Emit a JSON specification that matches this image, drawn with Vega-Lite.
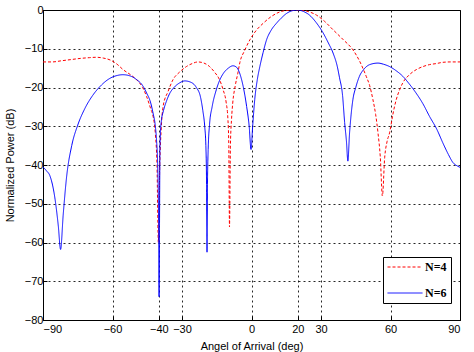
{
  "$schema": "https://vega.github.io/schema/vega-lite/v6.json",
  "width": 417,
  "height": 310,
  "autosize": "none",
  "padding": {"left": 43, "top": 10, "right": 14, "bottom": 32},
  "background": "white",
  "config": {
    "view": {"stroke": "black", "strokeWidth": 1},
    "axis": {
      "labelFont": "Liberation Sans", "labelFontSize": 11, "labelColor": "black",
      "titleFont": "Liberation Sans", "titleFontSize": 11, "titleFontWeight": "normal", "titleColor": "black",
      "domainColor": "black", "tickColor": "black", "tickSize": -4,
      "gridColor": "black", "gridDash": [2, 3], "gridOpacity": 0.85, "gridWidth": 1
    },
    "legend": {
      "orient": "none", "legendX": 340, "legendY": 247,
      "strokeColor": "black", "fillColor": "white", "padding": 4,
      "labelFont": "Liberation Serif", "labelFontSize": 12, "labelFontWeight": "bold", "labelColor": "black",
      "symbolType": "stroke", "symbolSize": 1225, "symbolStrokeWidth": 1, "clipHeight": 12,
      "rowPadding": 14, "labelOffset": 2
    }
  },
  "data": {"values": [
    {"series": "N=4", "angle": -90, "power": -13.4},
    {"series": "N=4", "angle": -86, "power": -13.4},
    {"series": "N=4", "angle": -82, "power": -13.1},
    {"series": "N=4", "angle": -78, "power": -12.8},
    {"series": "N=4", "angle": -74, "power": -12.5},
    {"series": "N=4", "angle": -70, "power": -12.3},
    {"series": "N=4", "angle": -67, "power": -12.2},
    {"series": "N=4", "angle": -64, "power": -12.4},
    {"series": "N=4", "angle": -61, "power": -12.9},
    {"series": "N=4", "angle": -58, "power": -14},
    {"series": "N=4", "angle": -55.4, "power": -15.4},
    {"series": "N=4", "angle": -52, "power": -16.8},
    {"series": "N=4", "angle": -49.6, "power": -18},
    {"series": "N=4", "angle": -47, "power": -20},
    {"series": "N=4", "angle": -45.3, "power": -22.3},
    {"series": "N=4", "angle": -43.5, "power": -25.5},
    {"series": "N=4", "angle": -42.5, "power": -27.4},
    {"series": "N=4", "angle": -41.5, "power": -32},
    {"series": "N=4", "angle": -40.8, "power": -40},
    {"series": "N=4", "angle": -40.2, "power": -60},
    {"series": "N=4", "angle": -39.6, "power": -40},
    {"series": "N=4", "angle": -39, "power": -31},
    {"series": "N=4", "angle": -38.2, "power": -25},
    {"series": "N=4", "angle": -36, "power": -21},
    {"series": "N=4", "angle": -33.9, "power": -18},
    {"series": "N=4", "angle": -31, "power": -16},
    {"series": "N=4", "angle": -28.1, "power": -14.6},
    {"series": "N=4", "angle": -25.5, "power": -13.8},
    {"series": "N=4", "angle": -23.1, "power": -13.4},
    {"series": "N=4", "angle": -20.5, "power": -13.7},
    {"series": "N=4", "angle": -18.1, "power": -14.6},
    {"series": "N=4", "angle": -16, "power": -16},
    {"series": "N=4", "angle": -13.8, "power": -18},
    {"series": "N=4", "angle": -12.3, "power": -20.5},
    {"series": "N=4", "angle": -10.9, "power": -24},
    {"series": "N=4", "angle": -10.2, "power": -28},
    {"series": "N=4", "angle": -9.8, "power": -35},
    {"series": "N=4", "angle": -9.5, "power": -56},
    {"series": "N=4", "angle": -9.1, "power": -35},
    {"series": "N=4", "angle": -8.6, "power": -28},
    {"series": "N=4", "angle": -8.1, "power": -24},
    {"series": "N=4", "angle": -7, "power": -19.5},
    {"series": "N=4", "angle": -5.9, "power": -16.3},
    {"series": "N=4", "angle": -5, "power": -13.5},
    {"series": "N=4", "angle": -3, "power": -10.5},
    {"series": "N=4", "angle": -0.7, "power": -7.7},
    {"series": "N=4", "angle": 2, "power": -5.3},
    {"series": "N=4", "angle": 5.1, "power": -3.4},
    {"series": "N=4", "angle": 8.5, "power": -1.7},
    {"series": "N=4", "angle": 12.2, "power": -0.5},
    {"series": "N=4", "angle": 16, "power": -0.05},
    {"series": "N=4", "angle": 20.8, "power": 0},
    {"series": "N=4", "angle": 24.5, "power": -0.4},
    {"series": "N=4", "angle": 28, "power": -1.3},
    {"series": "N=4", "angle": 31.5, "power": -2.9},
    {"series": "N=4", "angle": 35.2, "power": -5.1},
    {"series": "N=4", "angle": 39.5, "power": -7.6},
    {"series": "N=4", "angle": 43.8, "power": -10.3},
    {"series": "N=4", "angle": 46.5, "power": -13},
    {"series": "N=4", "angle": 49.5, "power": -17.1},
    {"series": "N=4", "angle": 51, "power": -19.5},
    {"series": "N=4", "angle": 52.4, "power": -23.1},
    {"series": "N=4", "angle": 53.6, "power": -27},
    {"series": "N=4", "angle": 54.6, "power": -31.7},
    {"series": "N=4", "angle": 55.6, "power": -38},
    {"series": "N=4", "angle": 56.5, "power": -48},
    {"series": "N=4", "angle": 57.5, "power": -38},
    {"series": "N=4", "angle": 58.5, "power": -34},
    {"series": "N=4", "angle": 59.6, "power": -31.7},
    {"series": "N=4", "angle": 61, "power": -27},
    {"series": "N=4", "angle": 62.5, "power": -23.1},
    {"series": "N=4", "angle": 64, "power": -20.5},
    {"series": "N=4", "angle": 65.3, "power": -18.8},
    {"series": "N=4", "angle": 68, "power": -16.8},
    {"series": "N=4", "angle": 71.1, "power": -15.4},
    {"series": "N=4", "angle": 74, "power": -14.6},
    {"series": "N=4", "angle": 76.8, "power": -14.1},
    {"series": "N=4", "angle": 80, "power": -13.8},
    {"series": "N=4", "angle": 82.6, "power": -13.5},
    {"series": "N=4", "angle": 86, "power": -13.4},
    {"series": "N=4", "angle": 90, "power": -13.4},

    {"series": "N=6", "angle": -90, "power": -40.5},
    {"series": "N=6", "angle": -88.5, "power": -41.5},
    {"series": "N=6", "angle": -87, "power": -42.8},
    {"series": "N=6", "angle": -84.8, "power": -48.8},
    {"series": "N=6", "angle": -83.4, "power": -55.7},
    {"series": "N=6", "angle": -82.4, "power": -61.8},
    {"series": "N=6", "angle": -81.3, "power": -53},
    {"series": "N=6", "angle": -79.8, "power": -43},
    {"series": "N=6", "angle": -77.6, "power": -35},
    {"series": "N=6", "angle": -75, "power": -29.7},
    {"series": "N=6", "angle": -72, "power": -25.5},
    {"series": "N=6", "angle": -68.5, "power": -22},
    {"series": "N=6", "angle": -65, "power": -19.5},
    {"series": "N=6", "angle": -61, "power": -17.6},
    {"series": "N=6", "angle": -58, "power": -16.9},
    {"series": "N=6", "angle": -55.5, "power": -16.7},
    {"series": "N=6", "angle": -52, "power": -17.1},
    {"series": "N=6", "angle": -49.5, "power": -18},
    {"series": "N=6", "angle": -47, "power": -19.5},
    {"series": "N=6", "angle": -45.3, "power": -21.4},
    {"series": "N=6", "angle": -43.5, "power": -24},
    {"series": "N=6", "angle": -42.5, "power": -26.6},
    {"series": "N=6", "angle": -41.5, "power": -30},
    {"series": "N=6", "angle": -41, "power": -33.5},
    {"series": "N=6", "angle": -40.5, "power": -40},
    {"series": "N=6", "angle": -40.1, "power": -55},
    {"series": "N=6", "angle": -39.9, "power": -74},
    {"series": "N=6", "angle": -39.7, "power": -55},
    {"series": "N=6", "angle": -39.5, "power": -35},
    {"series": "N=6", "angle": -39, "power": -29},
    {"series": "N=6", "angle": -38, "power": -26},
    {"series": "N=6", "angle": -36.7, "power": -23.5},
    {"series": "N=6", "angle": -35, "power": -21.2},
    {"series": "N=6", "angle": -33.9, "power": -20.3},
    {"series": "N=6", "angle": -31, "power": -18.8},
    {"series": "N=6", "angle": -28.8, "power": -18.3},
    {"series": "N=6", "angle": -26, "power": -18.7},
    {"series": "N=6", "angle": -23.8, "power": -20},
    {"series": "N=6", "angle": -22, "power": -22.5},
    {"series": "N=6", "angle": -21, "power": -26},
    {"series": "N=6", "angle": -20.2, "power": -30},
    {"series": "N=6", "angle": -19.7, "power": -35},
    {"series": "N=6", "angle": -19.4, "power": -45},
    {"series": "N=6", "angle": -19.2, "power": -62.5},
    {"series": "N=6", "angle": -19, "power": -45},
    {"series": "N=6", "angle": -18.7, "power": -36},
    {"series": "N=6", "angle": -18.1, "power": -29.5},
    {"series": "N=6", "angle": -17, "power": -25},
    {"series": "N=6", "angle": -15.2, "power": -20.6},
    {"series": "N=6", "angle": -13.5, "power": -17.8},
    {"series": "N=6", "angle": -12.3, "power": -16.5},
    {"series": "N=6", "angle": -10, "power": -15},
    {"series": "N=6", "angle": -8, "power": -14.4},
    {"series": "N=6", "angle": -6.4, "power": -14.8},
    {"series": "N=6", "angle": -5, "power": -16.5},
    {"series": "N=6", "angle": -3.6, "power": -19.7},
    {"series": "N=6", "angle": -2.1, "power": -24.9},
    {"series": "N=6", "angle": -1, "power": -30},
    {"series": "N=6", "angle": -0.2, "power": -36},
    {"series": "N=6", "angle": 0.5, "power": -30},
    {"series": "N=6", "angle": 1.4, "power": -23.1},
    {"series": "N=6", "angle": 2.5, "power": -18},
    {"series": "N=6", "angle": 3.6, "power": -14.6},
    {"series": "N=6", "angle": 5, "power": -11},
    {"series": "N=6", "angle": 6.5, "power": -7.7},
    {"series": "N=6", "angle": 8.5, "power": -5.2},
    {"series": "N=6", "angle": 10.8, "power": -3.4},
    {"series": "N=6", "angle": 13, "power": -2},
    {"series": "N=6", "angle": 15.1, "power": -0.9},
    {"series": "N=6", "angle": 17.5, "power": -0.2},
    {"series": "N=6", "angle": 20, "power": 0},
    {"series": "N=6", "angle": 22.5, "power": -0.4},
    {"series": "N=6", "angle": 25, "power": -1.3},
    {"series": "N=6", "angle": 28, "power": -3.3},
    {"series": "N=6", "angle": 31, "power": -6},
    {"series": "N=6", "angle": 33, "power": -8.3},
    {"series": "N=6", "angle": 35.2, "power": -11.1},
    {"series": "N=6", "angle": 37, "power": -14.5},
    {"series": "N=6", "angle": 38, "power": -17.5},
    {"series": "N=6", "angle": 39.3, "power": -22},
    {"series": "N=6", "angle": 40.2, "power": -29},
    {"series": "N=6", "angle": 41, "power": -34},
    {"series": "N=6", "angle": 41.6, "power": -39},
    {"series": "N=6", "angle": 42.3, "power": -32},
    {"series": "N=6", "angle": 43, "power": -27},
    {"series": "N=6", "angle": 43.8, "power": -23},
    {"series": "N=6", "angle": 45, "power": -20},
    {"series": "N=6", "angle": 46.6, "power": -17.1},
    {"series": "N=6", "angle": 48.5, "power": -15.3},
    {"series": "N=6", "angle": 51, "power": -14.1},
    {"series": "N=6", "angle": 54.6, "power": -13.7},
    {"series": "N=6", "angle": 57, "power": -14},
    {"series": "N=6", "angle": 59.6, "power": -14.6},
    {"series": "N=6", "angle": 62.5, "power": -15.7},
    {"series": "N=6", "angle": 65.3, "power": -17.1},
    {"series": "N=6", "angle": 68, "power": -19},
    {"series": "N=6", "angle": 71, "power": -21.4},
    {"series": "N=6", "angle": 74, "power": -24.2},
    {"series": "N=6", "angle": 76.8, "power": -27.4},
    {"series": "N=6", "angle": 80, "power": -30.8},
    {"series": "N=6", "angle": 82.6, "power": -34.3},
    {"series": "N=6", "angle": 85, "power": -37.3},
    {"series": "N=6", "angle": 87, "power": -39.4},
    {"series": "N=6", "angle": 89, "power": -40.3},
    {"series": "N=6", "angle": 90, "power": -40.6}
  ]},
  "mark": {"type": "line", "strokeWidth": 1, "interpolate": "monotone", "clip": true},
  "encoding": {
    "x": {
      "field": "angle", "type": "quantitative",
      "scale": {"domain": [-90, 90], "nice": false, "zero": false},
      "axis": {"values": [-90, -60, -40, -30, 0, 20, 30, 60, 90], "title": "Angel of Arrival (deg)", "labelPadding": 7, "titlePadding": 6}
    },
    "y": {
      "field": "power", "type": "quantitative",
      "scale": {"domain": [-80, 0], "nice": false},
      "axis": {"values": [0, -10, -20, -30, -40, -50, -60, -70, -80], "title": "Normalized Power (dB)", "labelPadding": 4, "titlePadding": 9}
    },
    "color": {
      "field": "series", "type": "nominal",
      "scale": {"domain": ["N=4", "N=6"], "range": ["#ff0000", "#0000ff"]},
      "legend": {"title": null}
    },
    "strokeDash": {
      "field": "series", "type": "nominal",
      "scale": {"domain": ["N=4", "N=6"], "range": [[3, 2], [1, 0]]},
      "legend": {"title": null}
    }
  }
}
